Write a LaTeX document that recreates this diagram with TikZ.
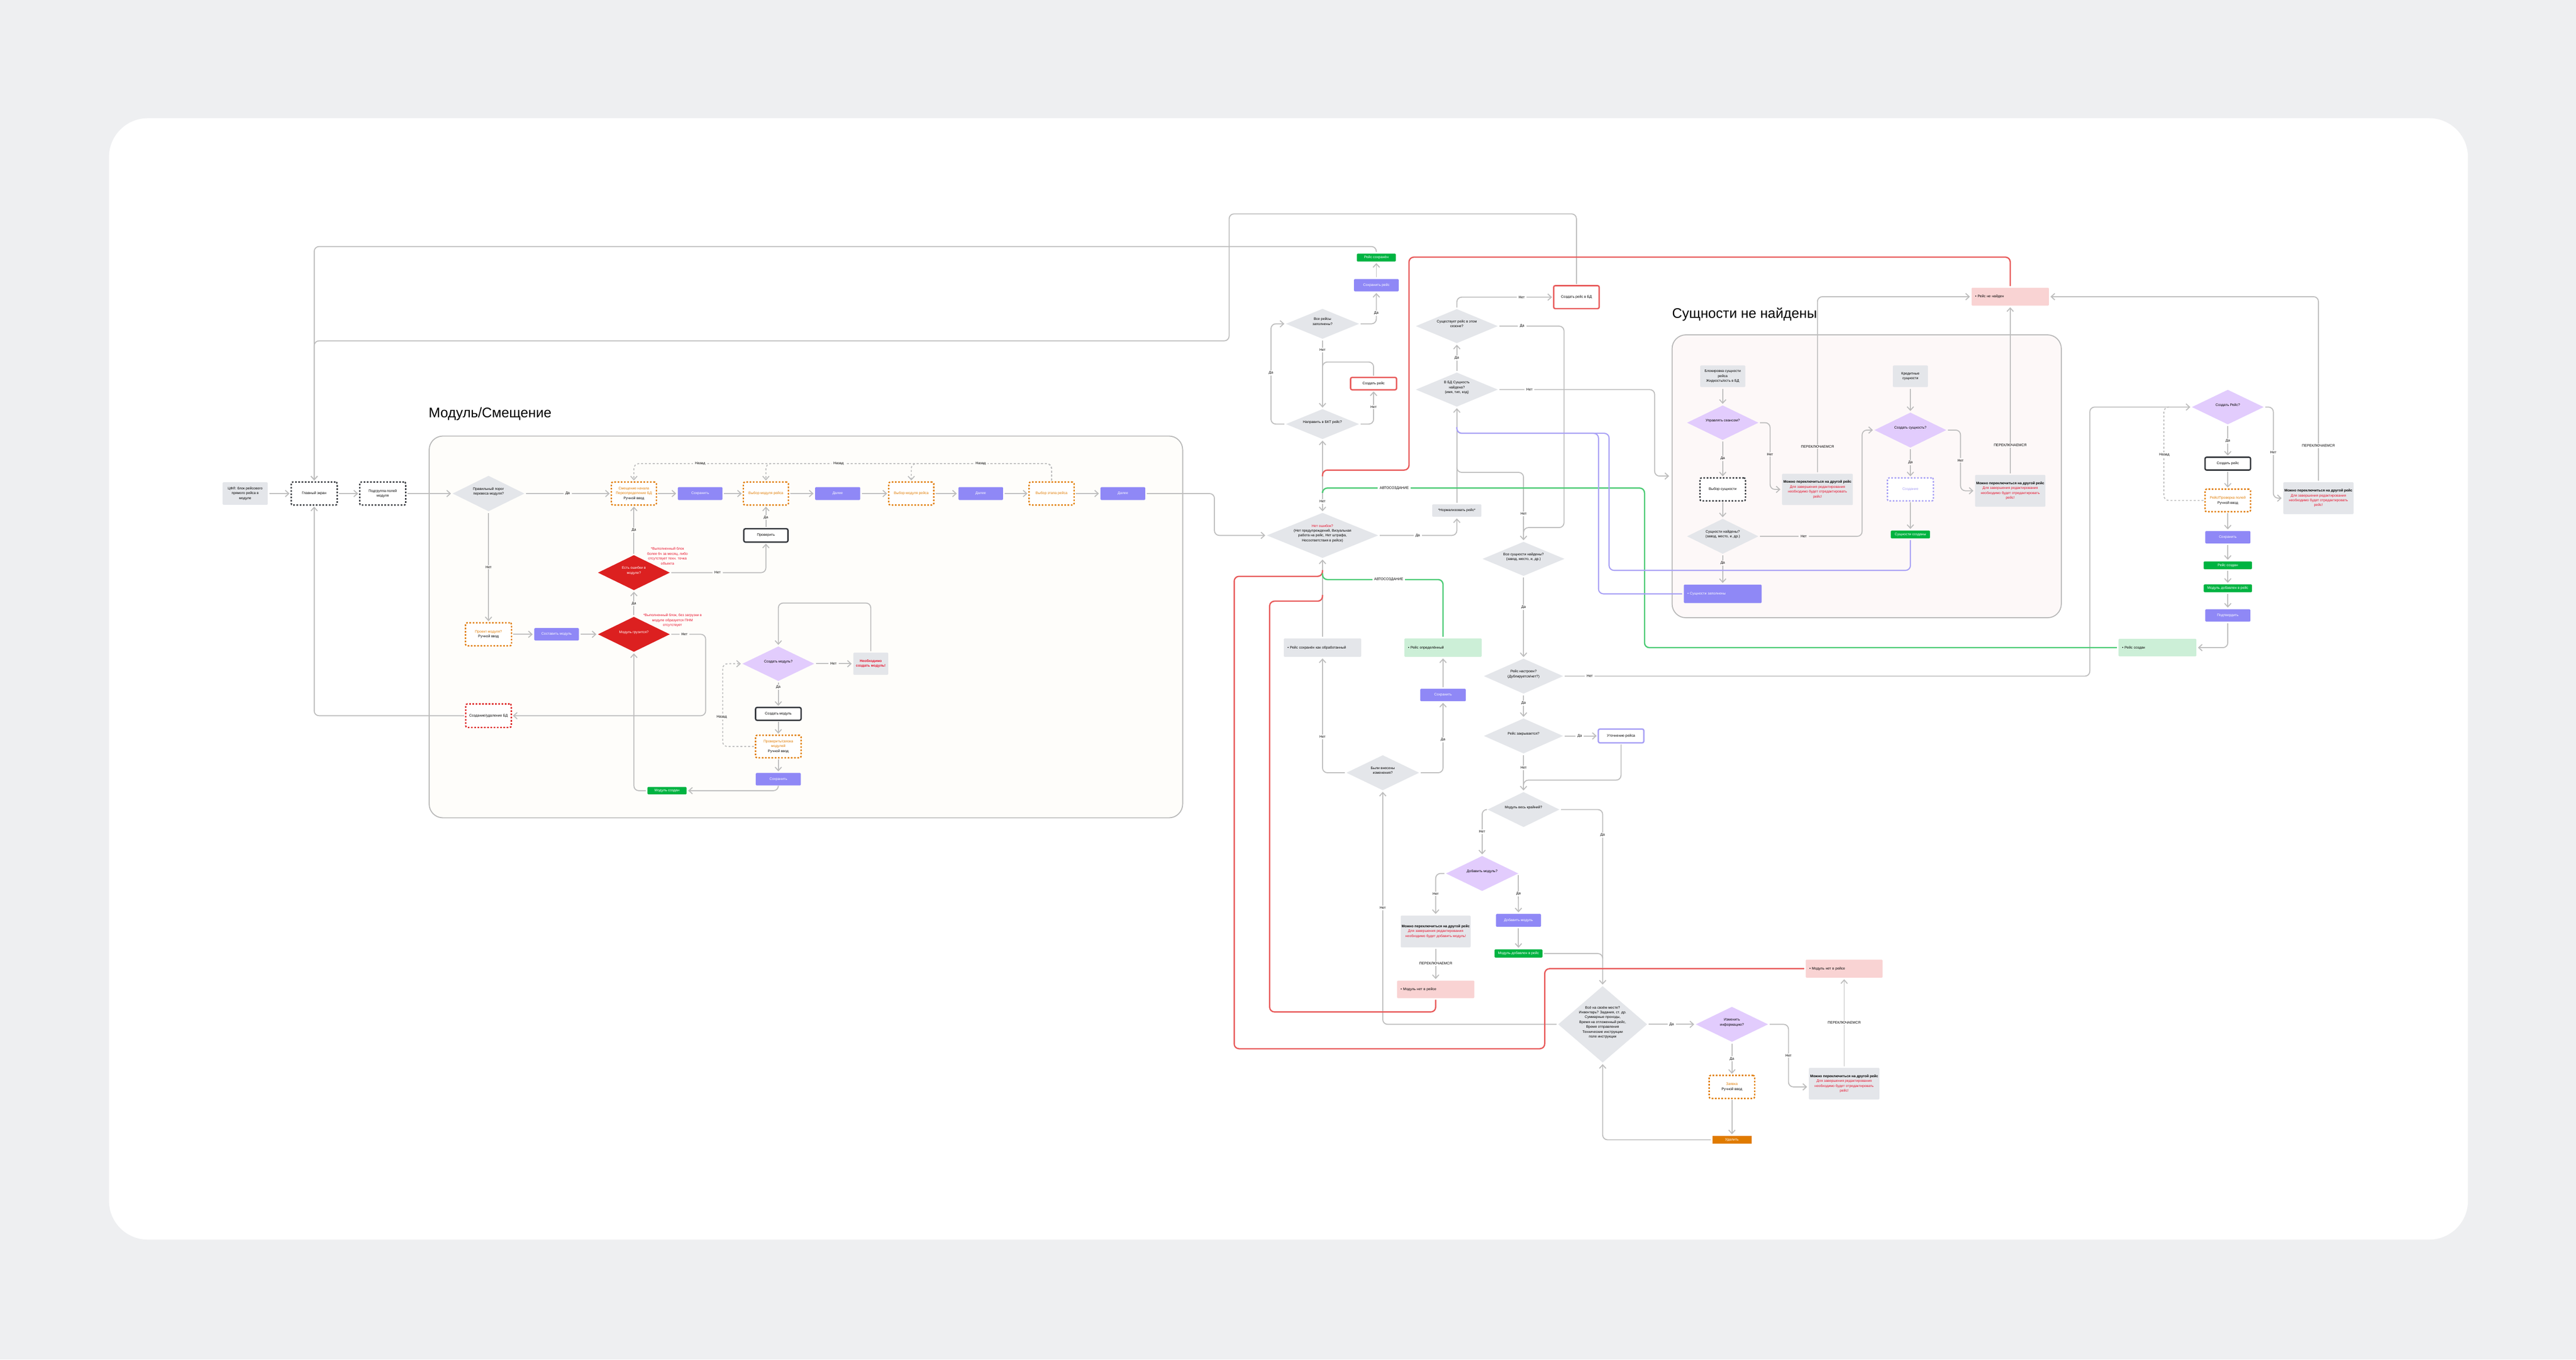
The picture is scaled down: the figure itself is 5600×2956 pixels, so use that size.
\documentclass[tikz,border=0pt]{standalone}
\usepackage{fontspec}
\setmainfont{Liberation Sans}
\usetikzlibrary{arrows.meta, shapes.geometric}

\definecolor{pagebg}{HTML}{EEEFF1}
\definecolor{cardline}{HTML}{B8B8B8}
\definecolor{modfill}{HTML}{FEFDFA}
\definecolor{lostfill}{HTML}{FDF8F8}
\definecolor{boxgray}{HTML}{E4E6EA}
\definecolor{btnblue}{HTML}{8F88F6}
\definecolor{okgreen}{HTML}{00B341}
\definecolor{alarmred}{HTML}{DC2020}
\definecolor{textred}{HTML}{E8102A}
\definecolor{askpurple}{HTML}{E2CCFD}
\definecolor{warnorange}{HTML}{E07B00}
\definecolor{softpink}{HTML}{F9D3D3}
\definecolor{softmint}{HTML}{CCEFD7}
\definecolor{flowgray}{HTML}{BDBDBD}
\definecolor{linered}{HTML}{E85A5A}
\definecolor{linegreen}{HTML}{4CCB75}
\definecolor{linepurple}{HTML}{A8A0F5}
\definecolor{inkdark}{HTML}{33363B}

% size of a node in pixels of the picture
\tikzset{wh/.style 2 args={minimum width=#1*0.01cm, minimum height=#2*0.01cm}}

% diamond text must not widen the diamond
\newcommand{\dtext}[1]{\makebox[0pt]{\smash{$\vcenter{\hbox{\begin{tabular}{@{}c@{}}#1\end{tabular}}}$}}}

\begin{document}
\begin{tikzpicture}[
            x = 0.01cm, y = -0.01cm, % one unit is one pixel, y goes down
            > = {Straight Barb[length=2.2pt, width=4pt]}, % arrow head style
            semithick % line style
        ]

        \tikzstyle{every node}=[
            inner sep = 0pt,
            outer sep = 0pt,
            align = center,
            font = \fontsize{2.2}{3}\selectfont
        ]
        \tikzstyle{every edge}=[
            draw = flowgray,
            line width = 0.6pt,
            shorten > = 1pt, % don't touch arrow head to node
            shorten < = 1pt
        ]
        \tikzstyle{flow}=[draw = flowgray, line width = 0.6pt, rounded corners = 3pt, shorten > = 1pt, shorten < = 1pt]
        \tikzstyle{flowback}=[flow, dash pattern = on 1.2pt off 1.2pt]
        \tikzstyle{flowred}=[flow, draw = linered, line width = 0.8pt]
        \tikzstyle{flowgreen}=[flow, draw = linegreen, line width = 0.8pt]
        \tikzstyle{flowpurple}=[flow, draw = linepurple, line width = 0.7pt]

        \tikzstyle{cardbox}=[rectangle, draw = cardline, line width = 0.6pt, rounded corners = 8.5pt]
        \tikzstyle{titletext}=[anchor = west, font = \fontsize{8.6}{10}\selectfont]
        \tikzstyle{graybox}=[rectangle, fill = boxgray, rounded corners = 0.5pt]
        \tikzstyle{bluebox}=[rectangle, fill = btnblue, text = white, rounded corners = 0.5pt]
        \tikzstyle{greenbox}=[rectangle, fill = okgreen, text = white, rounded corners = 0.5pt]
        \tikzstyle{pinkbox}=[rectangle, fill = softpink, align = left, inner xsep = 0.08cm, rounded corners = 0.5pt]
        \tikzstyle{mintbox}=[rectangle, fill = softmint, align = left, inner xsep = 0.08cm, rounded corners = 0.5pt]
        \tikzstyle{dashbox}=[rectangle, fill = white, line width = 0.85pt, rounded corners = 1pt, dash pattern = on 1pt off 1pt]
        \tikzstyle{solidbox}=[rectangle, fill = white, line width = 0.85pt, rounded corners = 1pt]
        \tikzstyle{ask}=[diamond, fill = boxgray]
        \tikzstyle{askpick}=[diamond, fill = askpurple]
        \tikzstyle{askred}=[diamond, fill = alarmred, text = white]
        \tikzstyle{notered}=[text = textred]
        \tikzstyle{lbl}=[fill = white, inner xsep = 1.2pt, inner ysep = 0.6pt]
        \tikzstyle{lblmod}=[lbl, fill = modfill]
        \tikzstyle{lbllost}=[lbl, fill = lostfill]

        % page and cards
        \fill[pagebg] (0,0) rectangle (5600,2956);
        \useasboundingbox (0,0) rectangle (5600,2956);
        \node[rectangle, fill = white, rounded corners = 24pt, wh={5128}{2438}] (sheet) at (2801,1476) {};
        \node[cardbox, fill = modfill, wh={1638}{830}] (cardmod) at (1752,1363) {};
        \node[cardbox, fill = lostfill, wh={846}{615}] (cardlost) at (4058,1035.5) {};
        \node[titletext] (titlemod) at (932,900) {Модуль/Смещение};
        \node[titletext] (titlelost) at (3635,683) {Сущности не найдены};

        % entry
        \node[graybox, wh={98}{49}] (start) at (533,1073) {ЦФЛ: блок рейсового\\прямого рейса в\\модуле};
        \node[dashbox, draw = inkdark, wh={100}{50}] (mainscr) at (683,1073) {Главный экран};
        \node[dashbox, draw = inkdark, wh={100}{50}] (groupscr) at (832,1073) {Подгруппа полей\\модуля};

        % module and offset
        \node[ask, wh={156}{77}] (dporog) at (1062,1073) {\dtext{Правильный порог\\перевеса модуля?}};
        \node[dashbox, draw = warnorange, wh={98}{50}] (ostart) at (1378,1073) {\textcolor{warnorange}{Смещение начала}\\\textcolor{warnorange}{Переопределение БД}\\Ручной ввод};
        \node[bluebox, wh={97}{28}] (bsave) at (1522,1073) {Сохранить};
        \node[dashbox, draw = warnorange, wh={98}{50}] (orace) at (1665,1073) {\textcolor{warnorange}{Выбор модуля рейса}};
        \node[bluebox, wh={98}{28}] (bnexta) at (1821,1073) {Далее};
        \node[dashbox, draw = warnorange, wh={98}{50}] (osec) at (1981,1073) {\textcolor{warnorange}{Выбор модуля рейса}};
        \node[bluebox, wh={97}{28}] (bnextb) at (2132,1073) {Далее};
        \node[dashbox, draw = warnorange, wh={98}{50}] (olast) at (2286,1073) {\textcolor{warnorange}{Выбор этапа рейса}};
        \node[bluebox, wh={97}{28}] (bnextc) at (2441,1073) {Далее};
        \node[solidbox, draw = inkdark, wh={96}{29}] (wcheck) at (1665,1164) {Проверить};
        \node[askred, wh={156}{76}] (rerr) at (1378,1245) {\dtext{Есть ошибки в\\модуле?}};
        \node[askred, wh={156}{76}] (rload) at (1378,1379) {\dtext{Модуль грузится?}};
        \node[notered] (noteerr) at (1451,1209) {*Выполненный блок\\более 6ч за месяц, либо\\отсутствует техн. точка\\объекта};
        \node[notered] (noteload) at (1462,1349) {*Выполненный блок, без загрузки в\\модуле образуется ПНМ\\отсутствует};
        \node[dashbox, draw = warnorange, wh={100}{50}] (oproject) at (1062,1379) {\textcolor{warnorange}{Проект модуля?}\\Ручной ввод};
        \node[bluebox, wh={97}{27}] (bmodule) at (1210,1379) {Составить модуль};
        \node[dashbox, draw = alarmred, wh={99}{51}] (ddelete) at (1062,1556) {Создание/удаление БД};
        \node[askpick, wh={156}{75}] (pmodule) at (1692,1443) {\dtext{Создать модуль?}};
        \node[graybox, wh={76}{48}, text = textred, font = \fontsize{2.2}{3}\selectfont\bfseries] (gneed) at (1893,1443) {Необходимо\\создать модуль!};
        \node[solidbox, draw = inkdark, wh={99}{28}] (wmodule) at (1692,1552) {Создать модуль};
        \node[dashbox, draw = warnorange, wh={99}{49}] (obind) at (1692,1623) {\textcolor{warnorange}{Проверить/связка}\\\textcolor{warnorange}{модулей}\\Ручной ввод};
        \node[bluebox, wh={98}{27}] (bstore) at (1692,1694) {Сохранить};
        \node[greenbox, wh={85}{16}] (gcreated) at (1450,1719) {Модуль создан};

        % races, top of the middle
        \node[greenbox, wh={85}{17}] (gsaved) at (2992,560) {Рейс сохранён};
        \node[bluebox, wh={97}{27}] (bsaverace) at (2992,620) {Сохранить рейс};
        \node[ask, wh={159}{65}] (dfilled) at (2875,704) {\dtext{Все рейсы\\заполнены?}};
        \node[ask, wh={159}{65}] (dsend) at (2875,922) {\dtext{Направить в БКТ рейс?}};
        \node[solidbox, draw = linered, wh={100}{27}] (rcreate) at (2986,834) {Создать рейс};
        \node[ask, wh={242}{98}] (dmain) at (2875,1164) {\dtext{\textcolor{textred}{Нет ошибок?}\\(Нет предупреждений, Визуальная\\работа на рейс, Нет штрафа,\\Несоответствия в рейсе)}};
        \node[ask, wh={178}{74}] (dexists) at (3167,709) {\dtext{Существует рейс в этом\\сезоне?}};
        \node[solidbox, draw = linered, wh={99}{50}] (rdb) at (3427,646) {Создать рейс в БД};
        \node[ask, wh={178}{74}] (dfound) at (3167,847) {\dtext{В БД Сущность\\найдена?\\(имя, тип, код)}};
        \node[graybox, wh={107}{27}] (gnorm) at (3167,1110) {*Нормализовать рейс*};
        \node[ask, wh={178}{74}] (dall) at (3312,1215) {\dtext{Все сущности найдены?\\(завод, место, и, др.)}};
        \node[graybox, wh={168}{40}, align = left, text width = 1.52cm, inner xsep = 0.08cm] (gdone) at (2875,1408) {• Рейс сохранён как обработанный};
        \node[mintbox, wh={168}{40}, text width = 1.52cm] (mrace) at (3137,1408) {• Рейс определённый};
        \node[bluebox, wh={99}{27}] (bedit) at (3137,1511) {Сохранить};
        \node[ask, wh={158}{76}] (dchange) at (3006,1680) {\dtext{Были внесены\\изменения?}};
        \node[ask, wh={172}{76}] (dsetup) at (3312,1470) {\dtext{Рейс настроен?\\(Дублируется/нет?)}};
        \node[ask, wh={172}{76}] (dclose) at (3312,1600) {\dtext{Рейс закрывается?}};
        \node[solidbox, draw = linepurple, wh={99}{30}] (wspec) at (3524,1600) {Уточнение рейса};
        \node[ask, wh={156}{76}] (dlast) at (3312,1760) {\dtext{Модуль весь крайний?}};
        \node[askpick, wh={157}{76}] (padd) at (3222,1899) {\dtext{Добавить модуль?}};
        \node[graybox, wh={152}{69}] (gswitch) at (3121,2025) {\textbf{Можно переключиться на другой рейс}\\\textcolor{textred}{Для завершения редактирования}\\\textcolor{textred}{необходимо будет добавить модуль!}};
        \node[pinkbox, wh={168}{38}, text width = 1.52cm] (pnomod) at (3121,2151) {• Модуль нет в рейсе};
        \node[bluebox, wh={98}{28}] (baddmod) at (3301,2001) {Добавить модуль};
        \node[greenbox, wh={104}{18}] (gadded) at (3301,2073) {Модуль добавлен в рейс};
        \node[ask, wh={193}{166}] (dinfo) at (3484,2227) {\dtext{Всё на своём месте?\\Инвентарь? Задания, ст. др.\\Суммарные проходы,\\Время на отложенный рейс,\\Время отправления\\Технические инструкции\\поле инструкции}};
        \node[askpick, wh={157}{76}] (pinfo) at (3765,2227) {\dtext{Изменить\\информацию?}};
        \node[dashbox, draw = warnorange, wh={99}{50}] (oclaim) at (3765,2363) {\textcolor{warnorange}{Заявка}\\Ручной ввод};
        \node[rectangle, fill = warnorange, text = white, wh={85}{17}] (fdelete) at (3765,2478) {Удалить};
        \node[graybox, wh={153}{69}] (gswinfo) at (4009,2356) {\textbf{Можно переключиться на другой рейс}\\\textcolor{textred}{Для завершения редактирования}\\\textcolor{textred}{необходимо будет отредактировать}\\\textcolor{textred}{рейс!}};
        \node[pinkbox, wh={167}{39}, text width = 1.51cm] (pnomodb) at (4009,2106) {• Модуль нет в рейсе};

        % entities not found
        \node[pinkbox, wh={168}{39}, text width = 1.52cm] (pnorace) at (4370,645) {• Рейс не найден};
        \node[graybox, wh={98}{47}] (glock) at (3745,818) {Блокировка сущности\\рейса\\Жидкость/есть в БД};
        \node[askpick, wh={155}{75}] (pmanage) at (3745,919) {\dtext{Управлять сеансом?}};
        \node[dashbox, draw = inkdark, wh={99}{50}] (dselect) at (3745,1064) {Выбор сущности};
        \node[ask, wh={155}{76}] (dentity) at (3745,1166) {\dtext{Сущности найдены?\\(завод, место, и, др.)}};
        \node[graybox, wh={154}{68}] (gswlock) at (3951,1064) {\textbf{Можно переключиться на другой рейс}\\\textcolor{textred}{Для завершения редактирования}\\\textcolor{textred}{необходимо будет отредактировать}\\\textcolor{textred}{рейс!}};
        \node[bluebox, wh={169}{40}, align = left, text width = 1.53cm, inner xsep = 0.08cm] (bfilled) at (3745,1291) {• Сущности заполнены};
        \node[graybox, wh={76}{47}] (gcredit) at (4153,818) {Кредитные\\сущности};
        \node[askpick, wh={156}{76}] (pcreate) at (4153,935) {\dtext{Создать сущность?}};
        \node[dashbox, draw = linepurple, text = linepurple, wh={100}{50}] (dmake) at (4153,1064) {Создание};
        \node[greenbox, wh={85}{17}] (gentity) at (4153,1162) {Сущности созданы};
        \node[graybox, wh={153}{69}] (gswcredit) at (4370,1067) {\textbf{Можно переключиться на другой рейс}\\\textcolor{textred}{Для завершения редактирования}\\\textcolor{textred}{необходимо будет отредактировать}\\\textcolor{textred}{рейс!}};

        % right column
        \node[askpick, wh={156}{75}] (prace) at (4843,885) {\dtext{Создать Рейс?}};
        \node[solidbox, draw = inkdark, wh={99}{28}] (wrace) at (4843,1008) {Создать рейс};
        \node[dashbox, draw = warnorange, wh={99}{49}] (ocheck) at (4843,1088) {\textcolor{warnorange}{Рейс/Проверка полей}\\Ручной ввод};
        \node[bluebox, wh={98}{27}] (bstorerace) at (4843,1168) {Сохранить};
        \node[greenbox, wh={105}{17}] (gracenew) at (4843,1229) {Рейс создан};
        \node[greenbox, wh={105}{17}] (gmodrace) at (4843,1279) {Модуль добавлен в рейс};
        \node[bluebox, wh={98}{27}] (bconfirm) at (4843,1338) {Подтвердить};
        \node[mintbox, wh={169}{38}, text width = 1.53cm] (mnew) at (4690,1408) {• Рейс создан};
        \node[graybox, wh={153}{69}] (gswrace) at (5040,1083) {\textbf{Можно переключиться на другой рейс}\\\textcolor{textred}{Для завершения редактирования}\\\textcolor{textred}{необходимо будет отредактировать}\\\textcolor{textred}{рейс!}};

        % module row
        \path[->] (start) edge (mainscr);
        \path[->] (mainscr) edge (groupscr);
        \path[->] (groupscr) edge (dporog);
        \path[->] (dporog) edge (ostart);
        \path[->] (ostart) edge (bsave);
        \path[->] (bsave) edge (orace);
        \path[->] (orace) edge (bnexta);
        \path[->] (bnexta) edge (osec);
        \path[->] (osec) edge (bnextb);
        \path[->] (bnextb) edge (olast);
        \path[->] (olast) edge (bnextc);
        \coordinate (backrow) at (2286,1008);
        \draw[flowback,->] (olast.north) -- (backrow) -| (osec.north);
        \draw[flowback,->] (olast.north) -- (backrow) -| (orace.north);
        \draw[flowback,->] (olast.north) -- (backrow) -| (ostart.north);
        \path[->] (wcheck) edge (orace);
        \path[->] (rerr) edge (ostart);
        \draw[flow,->] (rerr.east) -| (wcheck.south);
        \path[->] (rload) edge (rerr);
        \path[->] (dporog) edge (oproject);
        \path[->] (oproject) edge (bmodule);
        \path[->] (bmodule) edge (rload);
        \draw[flow,->] (rload.east) -- (1534,1379) |- (ddelete.east);
        \draw[flow,->] (ddelete.west) -| (mainscr.south);
        \path[->] (pmodule) edge (gneed);
        \draw[flow,->] (gneed.north) |- (1692,1311) -- (pmodule.north);
        \path[->] (pmodule) edge (wmodule);
        \path[->] (wmodule) edge (obind);
        \path[->] (obind) edge (bstore);
        \draw[flowback,->] (obind.west) -- (1571,1623) |- (pmodule.west);
        \draw[flow,->] (bstore.south) |- (gcreated.east);
        \draw[flow,->] (gcreated.west) -| (rload.south);
        \draw[flow,->] (bnextc.east) -- (2640,1073) |- (dmain.west);

        % long runs back to the main screen
        \draw[flow,->] (rdb.north) |- (2672,465) -- (2672,741) -| (mainscr.north);
        \draw[flow,->] (gsaved.north) |- (683,536) -- (mainscr.north);

        % races
        \path[->] (bsaverace) edge (gsaved);
        \draw[flow,->] (dfilled.east) -| (bsaverace.south);
        \draw[flow,->] (dsend.west) -- (2763,922) |- (dfilled.west);
        \draw[flow,->] (dfilled.south) -- (dsend.north);
        \draw[flow,->] (dsend.east) -| (rcreate.south);
        \draw[flow] (rcreate.north) |- (2875,787) -- (2875,830);
        \draw[flow,<->] (dsend.south) -- (dmain.north);
        \draw[flow,->] (dmain.east) -| (gnorm.south);
        \path[->] (gnorm) edge (dfound);
        \path[->] (dfound) edge (dexists);
        \draw[flow,->] (dexists.north) |- (rdb.west);
        \draw[flow] (dexists.east) -- (3400,709) -- (3400,1147) -- (3312,1147) -- (3312,1158);
        \coordinate (lostin) at (3632,1035);
        \draw[flow,->] (dfound.east) -- (3597,847) |- (lostin);
        \coordinate (normsplit) at (3167,1016);
        \draw[flow,->] (normsplit) -- (3167,1027) -- (3312,1027) -- (dall.north);
        \path[->] (dall) edge (dsetup);
        \draw[flow,->] (dsetup.east) -- (4543,1470) |- (prace.west);
        \path[->] (dsetup) edge (dclose);
        \path[->] (dclose) edge (wspec);
        \path[->] (dclose) edge (dlast);
        \draw[flow] (wspec.south) -- (3524,1696) -- (3312,1696) -- (3312,1708);
        \draw[flow,->] (dlast.west) -| (padd.north);
        \draw[flow,->] (dlast.east) -| (dinfo.north);
        \draw[flow,->] (padd.west) -| (gswitch.north);
        \path[->] (gswitch) edge (pnomod);
        \draw[flow,->] (padd.east) -- (baddmod.north);
        \path[->] (baddmod) edge (gadded);
        \draw[flow] (gadded.east) -- (3484,2073) -- (3484,2086);
        \draw[flow,->] (dinfo.west) -| (dchange.south);
        \draw[flow,->] (dchange.west) -| (gdone.south);
        \draw[flow,->] (dchange.east) -| (bedit.south);
        \path[->] (bedit) edge (mrace);
        \path[->] (gdone) edge (dmain);
        \path[->] (dinfo) edge (pinfo);
        \path[->] (pinfo) edge (oclaim);
        \path[->] (oclaim) edge (fdelete);
        \draw[flow,->] (fdelete.west) -| (dinfo.south);
        \draw[flow,->] (pinfo.east) -- (3888,2227) |- (3932,2363);
        \path[->] (gswinfo) edge (pnomodb);

        % entities
        \path[->] (glock) edge (pmanage);
        \path[->] (pmanage) edge (dselect);
        \path[->] (dselect) edge (dentity);
        \path[->] (dentity) edge (bfilled);
        \draw[flow,->] (pmanage.east) -- (3848,919) |- (gswlock.west);
        \draw[flow,->] (gswlock.north) |- (pnorace.west);
        \draw[flow,->] (dentity.east) -- (4048,1166) |- (pcreate.west);
        \path[->] (gcredit) edge (pcreate);
        \path[->] (pcreate) edge (dmake);
        \path[->] (dmake) edge (gentity);
        \draw[flow,->] (pcreate.east) -- (4262,935) |- (gswcredit.west);
        \path[->] (gswcredit) edge (pnorace);

        % right column
        \path[->] (prace) edge (wrace);
        \path[->] (wrace) edge (ocheck);
        \path[->] (ocheck) edge (bstorerace);
        \path[->] (bstorerace) edge (gracenew);
        \path[->] (gracenew) edge (gmodrace);
        \path[->] (gmodrace) edge (bconfirm);
        \draw[flow,->] (bconfirm.south) |- (mnew.east);
        \draw[flowback] (ocheck.west) -- (4704,1088) -- (4704,885) -- (4716,885);
        \draw[flow,->] (prace.east) -- (4942,885) |- (gswrace.west);
        \draw[flow,->] (gswrace.north) |- (pnorace.east);

        % coloured returns
        \draw[flowred] (pnorace.north) |- (3063,559) -- (3063,1022) -- (2875,1022) -- (2875,1032);
        \draw[flowred] (pnomodb.west) -- (3358,2106) -- (3358,2280) -- (2683,2280) -- (2683,1253) -- (2875,1253) -- (2875,1243);
        \draw[flowred] (pnomod.south) |- (2760,2200) -- (2760,1307) -- (2875,1307) -- (2875,1297);
        \draw[flowgreen] (mnew.west) -- (3575,1408) -- (3575,1061) -- (2875,1061) -- (2875,1072);
        \draw[flowgreen] (mrace.north) |- (2875,1260) -- (2875,1250);
        \draw[flowpurple] (bfilled.west) -- (3475,1291) -- (3475,942) -- (3167,942) -- (3167,932);
        \draw[flowpurple] (gentity.south) |- (3498,1240) -- (3498,942) -- (3167,942) -- (3167,932);

        % connector labels, module card
        \node[lblmod] (lyporog) at (1234,1073) {Да};
        \node[lblmod] (lnporog) at (1062,1233) {Нет};
        \node[lblmod] (lyerr) at (1378,1152) {Да};
        \node[lblmod] (lycheck) at (1665,1125) {Да};
        \node[lblmod] (lnerr) at (1560,1245) {Нет};
        \node[lblmod] (lyload) at (1378,1312) {Да};
        \node[lblmod] (lnload) at (1488,1379) {Нет};
        \node[lblmod] (lnmodule) at (1812,1443) {Нет};
        \node[lblmod] (lymodule) at (1692,1494) {Да};
        \node[lblmod] (lbbind) at (1569,1559) {Назад};
        \node[lblmod] (lbraceone) at (1522,1008) {Назад};
        \node[lblmod] (lbracetwo) at (1823,1008) {Назад};
        \node[lblmod] (lbracethree) at (2132,1008) {Назад};

        % connector labels, middle
        \node[lbl] (lnsend) at (2875,1090) {Нет};
        \node[lbl] (lgreenone) at (3031,1061) {АВТОСОЗДАНИЕ};
        \node[lbl] (lgreentwo) at (3019,1260) {АВТОСОЗДАНИЕ};
        \node[lbl] (lysend) at (2763,811) {Да};
        \node[lbl] (lnfilled) at (2875,761) {Нет};
        \node[lbl] (lncreate) at (2986,885) {Нет};
        \node[lbl] (lyfilled) at (2992,681) {Да};
        \node[lbl] (lymain) at (3082,1164) {Да};
        \node[lbl] (lnexists) at (3308,646) {Нет};
        \node[lbl] (lyexists) at (3309,709) {Да};
        \node[lbl] (lyfound) at (3167,778) {Да};
        \node[lbl] (lnfound) at (3325,847) {Нет};
        \node[lbl] (lnnorm) at (3312,1117) {Нет};
        \node[lbl] (lyall) at (3312,1320) {Да};
        \node[lbl] (lnsetup) at (3456,1470) {Нет};
        \node[lbl] (lysetup) at (3312,1529) {Да};
        \node[lbl] (lyclose) at (3434,1600) {Да};
        \node[lbl] (lnclose) at (3312,1669) {Нет};
        \node[lbl] (lnlast) at (3222,1808) {Нет};
        \node[lbl] (lylast) at (3484,1815) {Да};
        \node[lbl] (lnadd) at (3121,1943) {Нет};
        \node[lbl] (lyadd) at (3301,1943) {Да};
        \node[lbl] (lswadd) at (3121,2095) {ПЕРЕКЛЮЧАЕМСЯ};
        \node[lbl] (lninfo) at (3006,1974) {Нет};
        \node[lbl] (lnchange) at (2875,1602) {Нет};
        \node[lbl] (lychange) at (3137,1608) {Да};
        \node[lbl] (lyinfo) at (3634,2227) {Да};
        \node[lbl] (lypinfo) at (3765,2302) {Да};
        \node[lbl] (lnpinfo) at (3888,2295) {Нет};
        \node[lbl] (lswinfo) at (4009,2223) {ПЕРЕКЛЮЧАЕМСЯ};

        % connector labels, entities and right column
        \node[lbllost] (lnmanage) at (3848,988) {Нет};
        \node[lbllost] (lymanage) at (3745,997) {Да};
        \node[lbllost] (lyentity) at (3745,1224) {Да};
        \node[lbllost] (lnentity) at (3921,1166) {Нет};
        \node[lbllost] (lycreate) at (4153,1006) {Да};
        \node[lbllost] (lnpcreate) at (4262,1001) {Нет};
        \node[lbllost] (lswlock) at (3951,971) {ПЕРЕКЛЮЧАЕМСЯ};
        \node[lbllost] (lswcredit) at (4370,968) {ПЕРЕКЛЮЧАЕМСЯ};
        \node[lbl] (lyrace) at (4843,959) {Да};
        \node[lbl] (lbrace) at (4705,989) {Назад};
        \node[lbl] (lnrace) at (4942,984) {Нет};
        \node[lbl] (lswrace) at (5040,969) {ПЕРЕКЛЮЧАЕМСЯ};
\end{tikzpicture}
\end{document}
